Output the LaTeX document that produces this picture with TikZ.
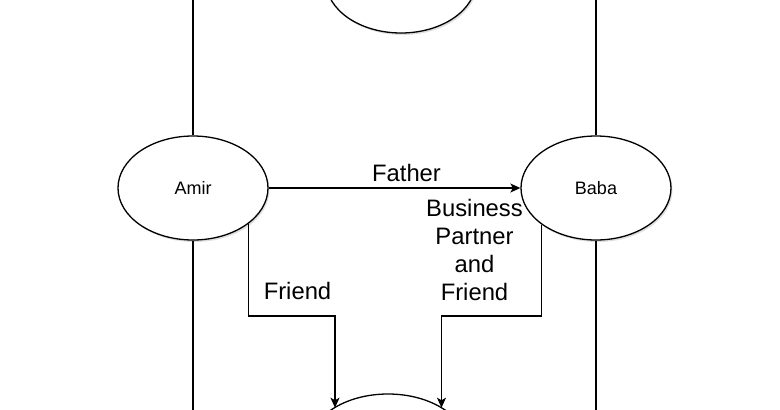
\documentclass[tikz,border=0pt]{standalone}
\usepackage{fontspec}
\setmainfont{Liberation Sans}
\usetikzlibrary{arrows.meta,shadows,shapes.geometric}

\begin{document}
\begin{tikzpicture}[x=1pt, y=-1pt, line width=1.3pt, >={Stealth[length=10pt,width=9pt,inset=2.5pt]},
    persona/.style={draw, ellipse, fill=white, minimum width=150pt, minimum height=104pt, inner sep=0pt,
        font=\fontsize{18}{21}\selectfont,
        drop shadow={opacity=0.25, shadow xshift=1.5pt, shadow yshift=-2pt}},
    etichetta/.style={inner sep=0pt, font=\fontsize{23.8}{28.2}\selectfont}]
    \useasboundingbox (0,0) rectangle (780,410);

    % Persone
    \node[persona] (top_node) at (401,-19) {};
    \node[persona] (amir) at (193,188) {Amir};
    \node[persona] (baba) at (596,188) {Baba};
    \node[persona, minimum width=158pt] (bottom_node) at (388,446) {};

    % Estremi fuori dal disegno
    \coordinate (amir_up) at (193,-3);
    \coordinate (amir_down) at (193,413);
    \coordinate (baba_up) at (596,-3);
    \coordinate (baba_down) at (596,413);
    \coordinate (bend_a) at (335,316);
    \coordinate (bend_b) at (441.5,316);

    % Linee verticali
    \draw (amir.north) -- (amir_up);
    \draw (amir.south) -- (amir_down);
    \draw (baba.north) -- (baba_up);
    \draw (baba.south) -- (baba_down);

    % Frecce di relazione
    \draw[->] (amir.east) -- (baba.west);
    \draw[->] (amir.-33.7) |- (bend_a) -- (bend_a |- bottom_node.145);
    \draw[->] (baba.-146.3) |- (bend_b) -- (bend_b |- bottom_node.35);

    % Etichette
    \node[etichetta, anchor=base] (lbl_father) at (406.5,181.7) {Father};
    \node[etichetta, anchor=base] (lbl_friend) at (297.5,299) {Friend};
    \node[etichetta, align=center] (lbl_partner) at (474.5,250) {Business\\Partner\\and\\Friend};
\end{tikzpicture}
\end{document}
